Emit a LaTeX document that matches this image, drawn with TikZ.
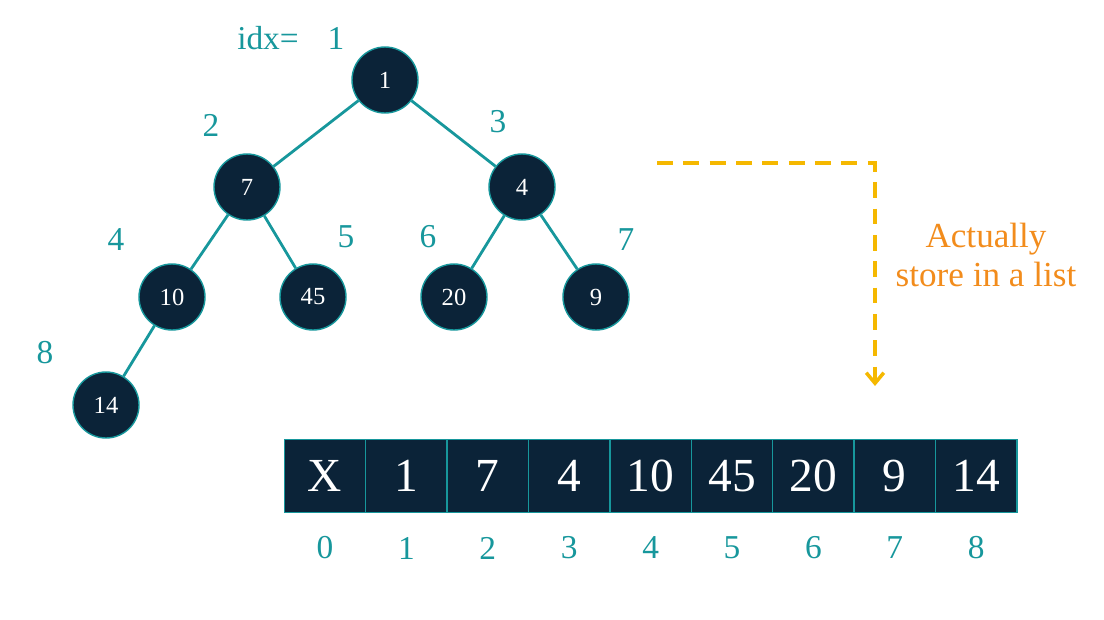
\documentclass[tikz,border=0pt]{standalone}
\usepackage{fontspec}
\setmainfont{Liberation Serif}
\usetikzlibrary{arrows.meta}
\definecolor{navy}{HTML}{0B2338}
\definecolor{teal}{HTML}{17979C}
\definecolor{gold}{HTML}{F5B800}
\definecolor{orng}{HTML}{F28C1C}
\tikzset{
  heap/.style={circle,fill=navy,draw=teal,thick,minimum size=1.32cm,inner sep=0pt,text=white,font=\fontsize{14}{14}\selectfont},
  cell/.style={rectangle,fill=navy,draw=teal,thick,minimum width=1.626cm,minimum height=1.46cm,inner sep=0pt,text=white,font=\fontsize{27}{27}\selectfont},
  idx/.style={text=teal,font=\fontsize{19}{19}\selectfont},
  edge/.style={teal,line width=1.6pt}
}
\begin{document}
\begin{tikzpicture}[x=0.02cm,y=-0.02cm]
\useasboundingbox (0,0) rectangle (1104,619);
% tree
\node (n1) at (385,80) [heap]{1};
\node (n2) at (247,187) [heap]{7};
\node (n3) at (522,187) [heap]{4};
\node (n4) at (172,297) [heap]{10};
\node (n5) at (313,297) [heap]{45};
\node (n6) at (454,297) [heap]{20};
\node (n7) at (596,297) [heap]{9};
\node (n8) at (106,405) [heap]{14};

\draw [edge] (n1) -- (n2);
\draw [edge] (n1) -- (n3);
\draw [edge] (n2) -- (n4);
\draw [edge] (n2) -- (n5);
\draw [edge] (n3) -- (n6);
\draw [edge] (n3) -- (n7);
\draw [edge] (n4) -- (n8);

\node (L0) at (268,38) [idx]{idx=};
\node (L1) at (336,38) [idx]{1};
\node (L2) at (211,125) [idx]{2};
\node (L3) at (498,122) [idx]{3};
\node (L4) at (116,240) [idx]{4};
\node (L5) at (346,237) [idx]{5};
\node (L6) at (428,237) [idx]{6};
\node (L7) at (626,240) [idx]{7};
\node (L8) at (45,353) [idx]{8};

% list
\foreach \v [count=\i from 0] in {X,1,7,4,10,45,20,9,14} {
  \node (c\i) at (325+\i*81.4,476) [cell]{\v};
  \node (k\i) at (325+\i*81.4,548) [idx]{\i};
}

% arrow
\coordinate (s) at (657,163);
\coordinate (t) at (875,163);
\coordinate (e) at (875,386);
\draw [gold,line width=2pt,dash pattern=on 9pt off 6pt,-{Straight Barb[length=6pt,width=10pt]}] (s) -- (t) -- (e);
\node (note) at (986,255) [text=orng,align=center,font=\fontsize{20}{22}\selectfont]{Actually\\store in a list};
\end{tikzpicture}
\end{document}
